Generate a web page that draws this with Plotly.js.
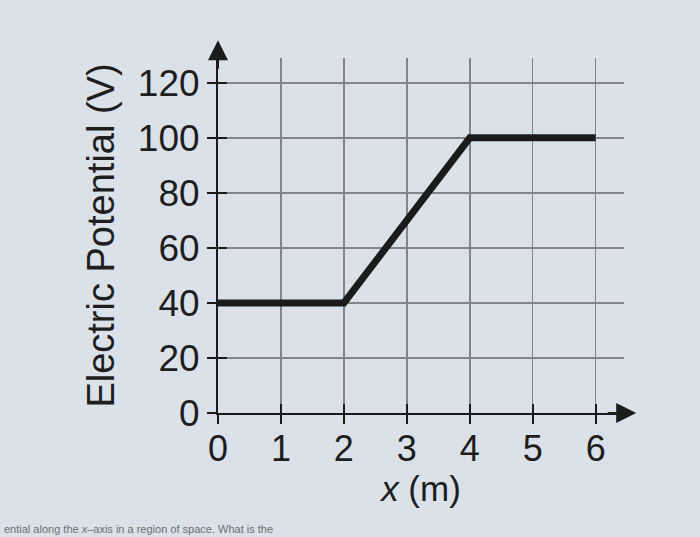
<!DOCTYPE html>
<html>
<head>
<meta charset="utf-8">
<script src="https://cdn.plot.ly/plotly-3.0.1.min.js"></script>
<style>
  html, body { margin: 0; padding: 0; background: #dae1e8; }
  #grafica { width: 700px; height: 537px; }
</style>
</head>
<body>
<div id="grafica"></div>
<script>
// puntos de la curva V(x)
const posicion_m = [0, 2, 4, 6];
const potencial_V = [40, 40, 100, 100];
// marcas de los ejes
const ticks_x = [0, 1, 2, 3, 4, 5, 6];
const ticks_y = [0, 20, 40, 60, 80, 100, 120];

const fuente = 'Liberation Sans, Arial, Helvetica, sans-serif';
const fondo = '#dae1e8';
const negro = '#1b1b1b';

const curva = {
  type: 'scatter',
  mode: 'lines',
  x: posicion_m,
  y: potencial_V,
  line: { color: negro, width: 7 },
  hoverinfo: 'skip'
};
// traza vacia para que se dibujen los ejes superpuestos (marcas hacia dentro)
const dummy = {
  type: 'scatter', mode: 'lines', x: [0], y: [0],
  xaxis: 'x2', yaxis: 'y2', line: { width: 0 }, hoverinfo: 'skip'
};

const ejeX = {
  range: [0, 6.45],
  tickvals: ticks_x,
  ticktext: ticks_x.map(String),
  ticks: 'outside', ticklen: 9, tickwidth: 2, tickcolor: negro,
  ticklabelstandoff: -6,
  showgrid: true, gridcolor: '#80868c', gridwidth: 1.5,
  zeroline: false,
  showline: true, linecolor: negro, linewidth: 2,
  tickfont: { family: fuente, size: 36, color: '#1e1e1e' },
  title: { text: '<i>x</i> (m)', font: { family: fuente, size: 35, color: '#1e1e1e' }, standoff: 0 },
  fixedrange: true
};
const ejeY = {
  range: [0, 129],
  tickvals: ticks_y,
  ticktext: ticks_y.map(String),
  ticks: 'outside', ticklen: 9, tickwidth: 2, tickcolor: negro,
  showgrid: true, gridcolor: '#80868c', gridwidth: 1.5,
  zeroline: false,
  showline: true, linecolor: negro, linewidth: 2,
  tickfont: { family: fuente, size: 37, color: '#1e1e1e' },
  title: { text: 'Electric Potential (V)', font: { family: fuente, size: 38, color: '#1e1e1e' }, standoff: 12 },
  fixedrange: true
};

const layout = {
  width: 700,
  height: 537,
  margin: { l: 218, r: 76, t: 58, b: 124 },
  paper_bgcolor: fondo,
  plot_bgcolor: fondo,
  showlegend: false,
  xaxis: ejeX,
  yaxis: ejeY,
  xaxis2: {
    overlaying: 'x', anchor: 'y2', range: [0, 6.45], tickvals: ticks_x,
    ticks: 'inside', ticklen: 9, tickwidth: 2, tickcolor: negro,
    showticklabels: false, showgrid: false, zeroline: false, showline: false
  },
  yaxis2: {
    overlaying: 'y', anchor: 'x2', range: [0, 129], tickvals: ticks_y,
    ticks: 'inside', ticklen: 9, tickwidth: 2, tickcolor: negro,
    showticklabels: false, showgrid: false, zeroline: false, showline: false
  },
  annotations: [
    // flecha del eje y
    { x: 0, y: 1.05, xref: 'paper', yref: 'paper', ax: 0, ay: 30, text: '',
      showarrow: true, arrowhead: 2, arrowsize: 2, arrowwidth: 2, arrowcolor: negro },
    // flecha del eje x
    { x: 1.03, y: 0, xref: 'paper', yref: 'paper', ax: -30, ay: 0, text: '',
      showarrow: true, arrowhead: 2, arrowsize: 2, arrowwidth: 2, arrowcolor: negro },
    // texto del pie de la foto
    { x: 0, y: 0, xref: 'paper', yref: 'paper', xanchor: 'left', yanchor: 'top',
      xshift: -216, yshift: -108, showarrow: false,
      text: 'ential along the <i>x</i>\u2013axis in a region of space. What is the',
      font: { family: fuente, size: 11, color: '#6a6e72' } }
  ]
};

Plotly.newPlot('grafica', [curva, dummy], layout, { displayModeBar: false, staticPlot: true });
</script>
</body>
</html>
